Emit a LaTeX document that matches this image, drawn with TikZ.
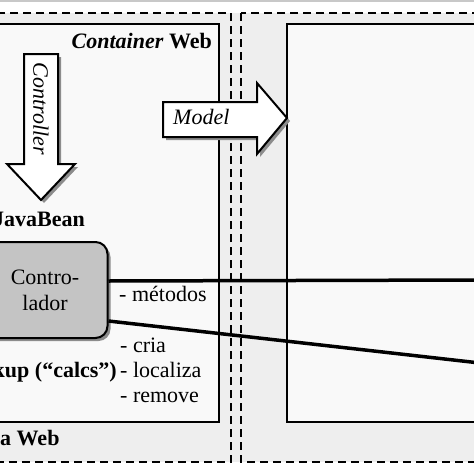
\documentclass[tikz,border=0pt]{standalone}
\usepackage{fontspec}
\setmainfont{Liberation Serif}
\usetikzlibrary{shadows}
\definecolor{zonefill}{HTML}{EEEEEE}
\definecolor{boxfill}{HTML}{F9F9F9}
\definecolor{ctrlfill}{HTML}{C4C4C4}
\definecolor{shadegray}{HTML}{8C8C8C}
\definecolor{stripgray}{HTML}{C8C8C8}
\begin{document}
\begin{tikzpicture}[x=1pt,y=-1pt,
    box/.style={draw=black,line width=2pt,fill=boxfill},
    zone/.style={draw=black,line width=1.8pt,dash pattern=on 8pt off 5pt},
    blockarrow/.style={draw=black,line width=2pt,fill=white,line join=miter},
    link/.style={line width=3.5pt},
    txt/.style={inner sep=0pt,font=\fontsize{22}{26}\selectfont},
    title/.style={inner sep=0pt,font=\fontsize{22}{26}\selectfont\bfseries},
    slanted/.style={inner sep=0pt,font=\fontsize{22}{26}\selectfont\itshape}]
    \useasboundingbox (0,0) rectangle (474,474);
    \clip (0,0) rectangle (474,474);

    % Draw the gray band and the top strip
    \fill[zonefill] (0,13) rectangle (474,462);
    \fill[stripgray] (0,0) rectangle (474,2);

    % Draw the two inner boxes
    \draw[box] (-10,24) rectangle (219,422);
    \draw[box] (287,24) rectangle (490,422);

    % Draw the dashed zones
    \draw[zone] (-10,13) rectangle (231,462);
    \draw[zone] (241,13) rectangle (490,462);

    % Add the box titles
    \node[title, anchor=base east] (cweb) at (212,48) {\textit{Container} Web};
    \node[title, anchor=base east] (jbean) at (85,226) {JavaBean};
    \node[title, anchor=base east] (lookup) at (117,377) {kup (“calcs”)};
    \node[title, anchor=base west] (aweb) at (0,445) {a Web};

    % Draw the Controller arrow with its shadow
    \fill[shadegray, shift={(3,3)}] (24,54) -- (58,54) -- (58,164) -- (75,164) -- (41,200) -- (7,164) -- (24,164) -- cycle;
    \draw[blockarrow] (24,54) -- (58,54) -- (58,164) -- (75,164) -- (41,200) -- (7,164) -- (24,164) -- cycle;
    \node[slanted, rotate=-90] (ctrlname) at (41,109) {Controller};

    % Draw the Model arrow with its shadow
    \fill[shadegray, shift={(3,3)}] (163,102) -- (257,102) -- (257,83) -- (287,118) -- (257,154) -- (257,137) -- (163,137) -- cycle;
    \draw[blockarrow] (163,102) -- (257,102) -- (257,83) -- (287,118) -- (257,154) -- (257,137) -- (163,137) -- cycle;
    \node[slanted, anchor=base west] (model) at (173,124) {Model};

    % Draw the Controlador node
    \node[txt, draw=black, line width=2pt, fill=ctrlfill, rounded corners=12pt,
          minimum width=125pt, minimum height=96pt, align=center,
          drop shadow={shadow xshift=3pt, shadow yshift=-3pt, fill=shadegray, opacity=1}]
          (ctrl) at (45,290) {Contro-\\lador};

    % Draw the two lines leaving the Controlador
    \coordinate (m1) at (480,280);
    \coordinate (m2) at (480,363);
    \draw[link] ([yshift=9pt]ctrl.east) -- (m1);
    \draw[link] ([yshift=-31pt]ctrl.east) -- (m2);

    % Add the method labels
    \node[txt, anchor=base west] (metodos) at (119,301) {- métodos};
    \node[txt, anchor=base west] (cria) at (120,352) {- cria};
    \node[txt, anchor=base west] (localiza) at (120,377) {- localiza};
    \node[txt, anchor=base west] (remove) at (120,402) {- remove};

\end{tikzpicture}
\end{document}
